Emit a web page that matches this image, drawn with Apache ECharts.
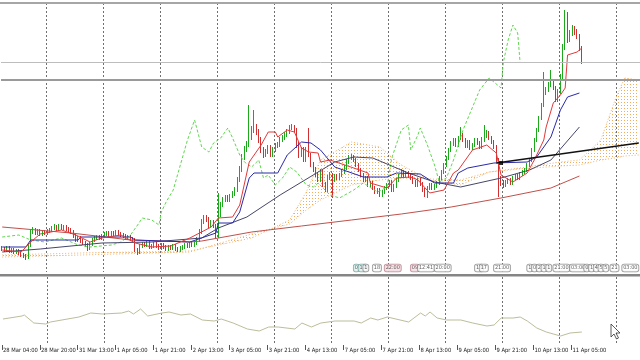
<!DOCTYPE html>
<html><head><meta charset="utf-8">
<script src="https://cdn.jsdelivr.net/npm/echarts@6/dist/echarts.min.js"></script>
<style>html,body{margin:0;padding:0;background:#fff;overflow:hidden}#c{width:640px;height:360px}</style>
</head><body><div id="c"></div>
<script>
// ---------- data ----------
const barCount = 269; // H1 bars incl. future (cloud shift)
const tickLabels = ['28 Mar 04:00','28 Mar 20:00','31 Mar 13:00','1 Apr 05:00','1 Apr 21:00','2 Apr 13:00','3 Apr 05:00','3 Apr 21:00','4 Apr 13:00','7 Apr 05:00','7 Apr 21:00','8 Apr 13:00','9 Apr 05:00','9 Apr 21:00','10 Apr 13:00','11 Apr 05:00'];

const opens = [24,23,22,24,21,22,20,21,19,17,
16,15,27,40,42,39,41,38,40,39,
41,42,44,45,43,46,44,45,43,42,
40,36,32,34,31,29,27,24,28,32,
34,35,34,36,38,39,37,39,38,40,
38,37,36,34,35,33,32,22,20,26,
28,27,29,25,26,28,26,24,27,25,
23,25,24,26,23,22,24,25,27,26,
28,27,29,32,40,50,54,52,47,50,
46,36,57,67,72,74,72,76,78,82,
92,102,114,122,127,134,142,144,140,132,
122,117,120,124,117,122,126,127,132,134,
137,140,144,145,142,127,117,122,112,122,
117,107,102,97,92,100,87,82,94,97,
92,96,94,97,100,104,110,114,115,112,
107,102,97,92,94,87,89,84,80,82,
77,80,84,87,90,82,86,92,96,100,
97,99,96,94,90,87,92,88,82,77,
84,87,84,86,89,94,100,107,114,122,
128,132,127,134,137,132,126,130,124,127,
132,129,125,132,136,139,134,130,125,112,
94,90,87,90,92,89,94,96,94,98,
100,102,107,112,122,132,142,154,167,180,
182,187,190,184,172,180,195,225,258,232,
238,244,240,236,224];
const closes = [23,22,24,21,22,20,21,19,17,16,
15,27,40,42,39,41,38,40,39,41,
42,44,45,43,46,44,45,43,42,40,
36,32,34,31,29,27,24,28,32,34,
35,34,36,38,39,37,39,38,40,38,
37,36,34,35,33,32,22,20,26,28,
27,29,25,26,28,26,24,27,25,23,
25,24,26,23,22,24,25,27,26,28,
27,29,32,40,50,54,52,47,50,46,
36,57,67,72,74,72,76,78,82,92,
102,114,122,127,134,142,144,140,132,122,
117,120,124,117,122,126,127,132,134,137,
140,144,145,142,127,117,122,112,122,117,
107,102,97,92,100,87,82,94,97,92,
96,94,97,100,104,110,114,115,112,107,
102,97,92,94,87,89,84,80,82,77,
80,84,87,90,82,86,92,96,100,97,
99,96,94,90,87,92,88,82,77,84,
87,84,86,89,94,100,107,114,122,128,
132,127,134,137,132,126,130,124,127,132,
129,125,132,136,139,134,130,125,112,94,
90,87,90,92,89,94,96,94,98,100,
102,107,112,122,132,142,154,167,180,182,
187,190,184,172,180,195,225,258,232,238,
244,240,236,224,210];
const lows = [21,20,20,19,19,18,18,17,15,14,
12,13,25,38,37,37,36,36,37,37,
39,40,42,41,41,42,42,41,40,38,
34,30,30,29,27,25,21,22,26,30,
32,32,32,34,36,35,35,36,36,36,
35,34,32,32,31,30,20,17,18,24,
25,25,23,23,24,24,22,22,23,21,
21,22,22,21,20,20,22,23,24,24,
25,25,27,30,38,48,50,44,45,44,
34,34,55,65,70,70,70,74,76,80,
90,100,112,120,125,132,139,137,129,119,
114,115,118,115,115,120,124,125,130,132,
135,138,142,140,124,114,115,110,110,115,
105,100,95,90,90,85,80,80,92,74,
90,92,92,95,98,102,108,112,110,105,
100,95,90,90,85,85,82,78,78,75,
75,78,82,85,80,80,84,90,94,95,
95,94,92,88,85,85,86,80,75,74,
82,82,82,84,87,92,98,105,112,120,
126,125,125,132,130,124,124,122,122,125,
127,123,123,130,134,132,128,123,110,75,
86,84,85,88,87,87,92,92,92,96,
98,100,105,110,120,130,140,152,165,177,
180,185,182,170,170,178,193,222,229,230,
236,237,233,221,208];
const highs = [26,25,26,26,24,24,23,23,21,19,
18,29,43,45,44,43,43,42,42,43,
44,46,48,47,48,48,47,47,45,44,
42,38,36,36,33,31,29,30,34,36,
37,37,38,40,41,41,41,41,42,42,
40,39,38,37,37,35,34,24,28,30,
30,31,31,28,30,30,28,29,29,27,
27,27,28,28,25,26,27,29,29,30,
30,31,35,43,53,57,57,55,52,52,
48,79,70,75,77,77,78,81,85,95,
106,118,126,131,167,146,162,148,143,135,
125,123,127,127,125,129,130,135,137,140,
143,147,148,147,144,130,125,125,125,144,
119,110,105,100,103,102,90,97,100,99,
98,98,99,103,107,113,117,118,117,114,
109,104,99,96,96,91,91,86,84,84,
82,86,89,92,92,88,94,98,103,102,
101,101,98,96,92,94,94,90,84,86,
89,89,88,91,96,102,109,116,124,131,
134,134,136,145,139,134,132,132,129,134,
134,131,135,147,142,141,136,132,127,114,
96,92,92,94,94,96,98,98,100,102,
104,109,114,124,134,144,156,169,200,185,
190,202,193,186,183,198,228,262,260,242,
247,246,243,238,226];

// indicator lines: [barIndex, value]
const slowMA = [[0,45],[29,39],[54,32],[79,30],[84,31],[105,40],[126,46],[147,52],[168,58],[189,65],[210,74],[231,84],[243,96]];
const midMA = [[0,20],[16,23],[42,29],[63,30],[84,34],[91,44],[103,55],[117,77],[140,110],[148,115],[156,114],[171,99],[182,90],[193,85],[210,94],[222,102],[231,112],[243,145]];
const kijun = [[0,25],[10,25],[12,32],[32,32],[33,35],[54,35],[56,32],[79,30],[90,39],[91,49],[97,49],[100,60],[104,94],[106,99],[116,99],[120,117],[126,130],[130,129],[134,122],[140,105],[152,95],[162,95],[166,99],[176,98],[182,89],[190,89],[192,99],[196,104],[207,109],[221,110],[225,115],[231,135],[235,162],[238,175],[243,179]];
const tenkan = [[0,22],[8,20],[12,30],[16,38],[25,42],[31,37],[37,30],[42,34],[50,37],[56,29],[63,25],[71,26],[79,34],[88,45],[91,54],[97,55],[100,67],[104,110],[109,127],[112,140],[115,140],[116,135],[120,142],[123,140],[126,124],[129,120],[133,119],[134,110],[138,112],[148,104],[154,99],[155,89],[162,84],[166,94],[172,95],[175,92],[180,79],[186,82],[190,99],[192,102],[198,122],[204,127],[208,119],[210,97],[215,90],[221,99],[224,112],[228,132],[229,145],[232,169],[235,177],[237,184],[238,217],[242,220],[244,224]];
const chikou = [[0,35],[7,37],[12,32],[18,30],[25,34],[32,27],[37,25],[46,27],[50,30],[54,37],[57,47],[59,54],[63,52],[66,47],[67,60],[69,70],[72,82],[78,132],[81,152],[84,125],[87,120],[89,129],[92,134],[95,144],[97,134],[100,117],[102,110],[105,105],[108,112],[110,94],[112,97],[115,87],[118,94],[121,105],[124,100],[128,87],[131,85],[133,89],[138,77],[142,74],[148,82],[152,89],[158,80],[162,85],[164,114],[168,142],[171,147],[172,122],[175,137],[176,144],[179,127],[182,107],[184,90],[187,94],[190,112],[194,142],[201,182],[205,194],[210,184],[211,210],[213,232],[215,247],[217,239],[218,210]];
const cloudIdx = [0,33,79,105,121,128,134,147,159,168,180,193,205,218,235,243,252,258,262,268];
const spanA = [17,19,21,34,52,80,112,130,125,107,92,87,100,104,110,112,132,172,194,192];
const spanB = [15,17,20,38,48,62,72,87,92,94,93,92,100,103,106,107,112,114,116,117];
const trendLine = [[208,109],[268,129]];
const trendAnchor = [[210,109]];
const levels = [210,192];
const oscillator = [[0,26],[8,29],[9,30],[13,22],[18,21],[20,23],[32,28],[37,32],[42,31],[50,32],[53,34],[55,31],[58,36],[61,29],[67,32],[70,33],[75,30],[79,31],[84,25],[89,24],[92,26],[97,22],[103,16],[108,14],[112,18],[116,18],[123,16],[126,22],[130,18],[134,22],[140,24],[148,24],[151,22],[155,27],[158,25],[162,28],[171,23],[176,32],[178,29],[180,33],[183,27],[187,25],[193,25],[198,22],[204,19],[207,20],[210,27],[215,27],[218,28],[221,24],[225,17],[229,13],[235,9],[239,12],[244,13]];
const tagBars  = [148,150,152,156,161,172,175,182,199,201,207,221,223,225,227,229,232,239,245,247,249,251,253,256,261];
const tagTexts = ['0','12','1','18','22:00','09','12:41','20:00','13','17','21:00','1','0','2','1','1','21:00','03:00','0','1','4','5','5','21','03:00'];
const tagTones = ['t','t','g','g','p','p','g','g','g','g','g','g','g','g','g','g','g','g','g','g','g','g','g','g','g'];

// ---------- chart ----------
const categories = Array.from({length: barCount}, (_, i) => String(i));
const candleData = opens.map((o, i) => [o, closes[i], lows[i], highs[i]]);
const FONT = "'Liberation Sans Narrow','DejaVu Sans Condensed','Liberation Sans',sans-serif";

const pat = document.createElement('canvas');
pat.width = 3; pat.height = 3;
const pctx = pat.getContext('2d');
pctx.fillStyle = '#f2ac5e';
pctx.fillRect(0, 0, 1, 1);

const gridLineFn = (i) => i % 24 === 19;
const labelFn = (i) => i % 16 === 0 && i / 16 < tickLabels.length;

const toneStyle = {
  t: {bg: '#e4f2ef', bd: '#6a9e98'},
  p: {bg: '#f6dde3', bd: '#b07a88'},
  g: {bg: '#ffffff', bd: '#808080'}
};

function line(data, color, extra) {
  return Object.assign({
    type: 'line', xAxisIndex: 0, yAxisIndex: 0, data: data,
    showSymbol: false, symbol: 'none', silent: true, z: 4,
    lineStyle: {color: color, width: 1}, animation: false
  }, extra || {});
}

const chart = echarts.init(document.getElementById('c'), null, {renderer: 'canvas'});
chart.setOption({
  animation: false,
  backgroundColor: '#ffffff',
  grid: [
    {left: 1, width: 640, top: 3, height: 269},
    {left: 1, width: 640, top: 277, height: 68}
  ],
  xAxis: [
    {type: 'category', gridIndex: 0, data: categories, boundaryGap: true,
     axisLine: {show: false}, axisTick: {show: false}, axisLabel: {show: false},
     splitLine: {show: true, interval: gridLineFn, lineStyle: {color: '#707070', width: 1, type: [2, 2]}}},
    {type: 'category', gridIndex: 1, data: categories, boundaryGap: true,
     axisLine: {show: false},
     axisTick: {show: true, interval: labelFn, length: 5, lineStyle: {color: '#555', width: 1}},
     axisLabel: {show: true, interval: labelFn, formatter: (v, i) => tickLabels[i / 16] || '',
       align: 'left', fontSize: 5.8, color: '#222', margin: 2, fontFamily: FONT},
     splitLine: {show: true, interval: gridLineFn, lineStyle: {color: '#707070', width: 1, type: [2, 2]}}}
  ],
  yAxis: [
    {type: 'value', gridIndex: 0, min: 0, max: 269, show: false},
    {type: 'value', gridIndex: 1, min: 0, max: 68, show: false}
  ],
  series: [
    {type: 'custom', xAxisIndex: 0, yAxisIndex: 0, data: [[0, 0]], silent: true, z: 1,
     renderItem: function (params, api) {
       const pts = [];
       for (let k = 0; k < cloudIdx.length; k++) pts.push(api.coord([cloudIdx[k], spanA[k]]));
       for (let k = cloudIdx.length - 1; k >= 0; k--) pts.push(api.coord([cloudIdx[k], spanB[k]]));
       return {type: 'polygon', shape: {points: pts}, style: {fill: {image: pat, repeat: 'repeat'}, stroke: null}};
     }},
    line(cloudIdx.map((x, k) => [x, spanA[k]]), '#f3b471', {z: 2, lineStyle: {color: '#f3b471', width: 1, type: [1, 2]}}),
    line(cloudIdx.map((x, k) => [x, spanB[k]]), '#f3b471', {z: 2, lineStyle: {color: '#f3b471', width: 1, type: [1, 2]}}),
    {type: 'candlestick', xAxisIndex: 0, yAxisIndex: 0, data: candleData, barWidth: 1.2, z: 3, silent: true,
     itemStyle: {color: '#1ea81e', color0: '#d03030', borderColor: '#1ea81e', borderColor0: '#d03030', borderWidth: 1},
     markLine: {silent: true, symbol: 'none', animation: false, label: {show: false},
       data: [
         {yAxis: levels[0], lineStyle: {color: '#bdbdbd', width: 1, type: 'solid'}},
         {yAxis: levels[1], lineStyle: {color: '#9a9a9a', width: 2, type: 'solid'}}
       ]}},
    line(chikou, '#5fd84e', {lineStyle: {color: '#5fd84e', width: 1, type: [3, 2]}}),
    line(slowMA, '#c0504a'),
    line(midMA, '#45456a'),
    line(kijun, '#2a2aa8'),
    line(tenkan, '#e03a3a'),
    line(trendLine, '#111', {z: 5, lineStyle: {color: '#111', width: 1.3}}),
    {type: 'scatter', xAxisIndex: 0, yAxisIndex: 0, data: trendAnchor, symbol: 'rect', symbolSize: 4, z: 6, silent: true,
     itemStyle: {color: '#000'}},
    {type: 'scatter', xAxisIndex: 0, yAxisIndex: 0, symbolSize: 0, z: 6, silent: true,
     data: tagBars.map((b, k) => ({
       value: [b, 4],
       label: {show: true, position: 'right', distance: 0, formatter: tagTexts[k],
         fontSize: 5.5, fontFamily: FONT, color: '#333', padding: [1, 1, 0, 1], borderRadius: 2,
         backgroundColor: toneStyle[tagTones[k]].bg, borderColor: toneStyle[tagTones[k]].bd, borderWidth: 0.8}
     }))},
    {type: 'line', xAxisIndex: 1, yAxisIndex: 1, data: oscillator, showSymbol: false, symbol: 'none', silent: true,
     lineStyle: {color: '#bdbd9c', width: 1}}
  ],
  graphic: [
    {type: 'rect', shape: {x: 0, y: 2, width: 640, height: 2}, style: {fill: '#a6a6a6'}, silent: true, z: 10},
    {type: 'rect', shape: {x: 0, y: 274, width: 640, height: 2.5}, style: {fill: '#858585'}, silent: true, z: 10},
    {type: 'polygon', x: 611, y: 324, shape: {points: [[0, 0], [0, 13], [3, 10], [5.5, 15], [7.5, 14], [5, 9], [9, 9]]},
     style: {fill: '#fff', stroke: '#333', lineWidth: 0.8}, silent: true, z: 10}
  ]
});
</script>
</body></html>
